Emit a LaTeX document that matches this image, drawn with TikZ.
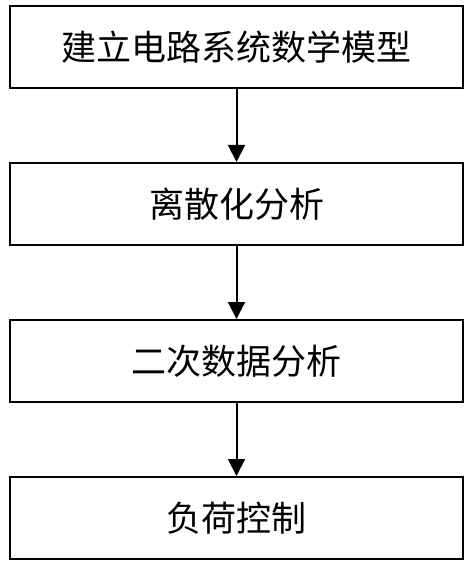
\documentclass[tikz,border=0pt]{standalone}
\usepackage{fontspec}
\newfontfamily\cjk{Noto Sans CJK SC}
\usepackage{tikz}
\usetikzlibrary{positioning, arrows.meta}

\begin{document}
\begin{tikzpicture}[
    stepbox/.style={draw, line width=1pt, minimum width=226.5pt,
                    minimum height=41pt, inner sep=0pt,
                    font=\cjk\fontsize{17.5}{20}\selectfont},
    flow/.style={-{Triangle[length=8.5pt, width=8.5pt]}, line width=1pt},
    node distance=36.5pt]
    \useasboundingbox (0,0) rectangle (237pt,-280.5pt);

    \node[stepbox] (model) at (118.25pt,-23.5pt) {建立电路系统数学模型};
    \node[stepbox, below=of model] (discrete) {离散化分析};
    \node[stepbox, below=of discrete] (second) {二次数据分析};
    \node[stepbox, below=of second] (load) {负荷控制};

    \draw[flow] (model) -- (discrete);
    \draw[flow] (discrete) -- (second);
    \draw[flow] (second) -- (load);
\end{tikzpicture}
\end{document}
